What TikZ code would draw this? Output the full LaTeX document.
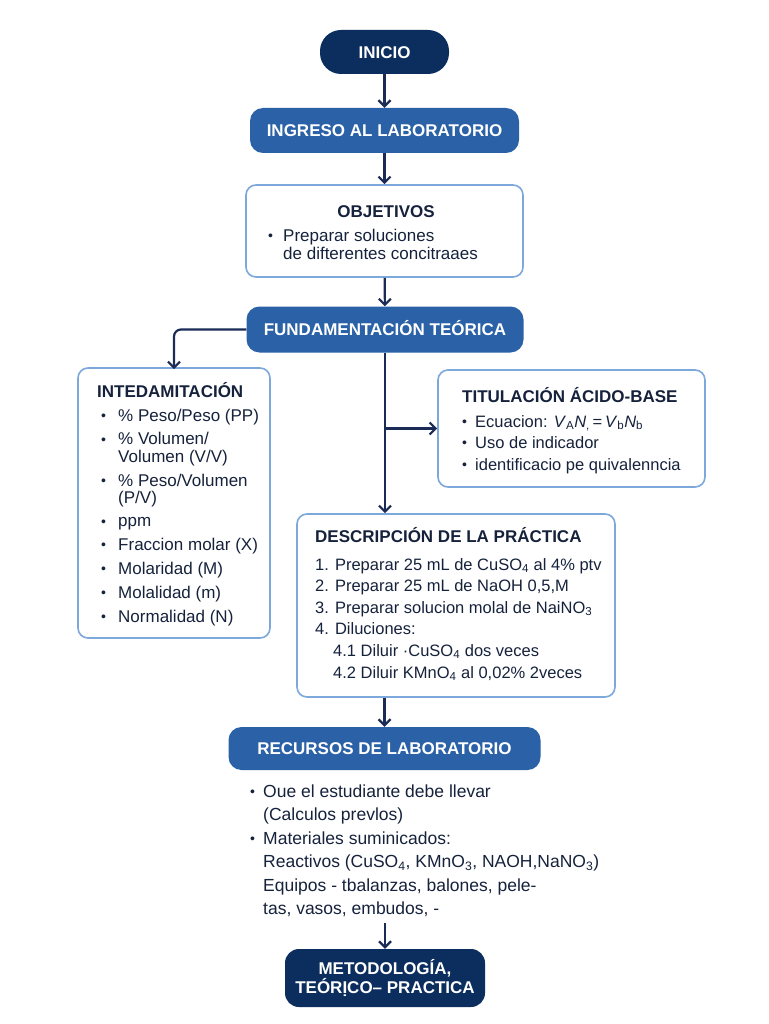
\documentclass[tikz,border=0pt]{standalone}
\usepackage{fontspec}
\setmainfont{Liberation Sans}
\usetikzlibrary{positioning, arrows.meta, calc}

\definecolor{navy}{HTML}{0C2E5E}
\definecolor{midblue}{HTML}{2A61A7}
\definecolor{edgeblue}{HTML}{7DA8DB}
\definecolor{inkdark}{HTML}{16223C}
\definecolor{arrowblue}{HTML}{1A2B55}

% bullets and hanging indents for the lists
\newcommand{\bul}[1][15pt]{\makebox[#1][l]{\fontsize{14}{14}\selectfont\raisebox{0.6pt}{•}}}
\newcommand{\indt}[1][15pt]{\hspace*{#1}}

\tikzset{
  pill/.style={rounded corners=13pt, text=white, inner sep=0pt, align=center,
    font=\fontsize{17}{17}\selectfont\bfseries},
  navypill/.style={pill, fill=navy},
  bluepill/.style={pill, fill=midblue, text height=12.3pt, text depth=0pt},
  infobox/.style={draw=edgeblue, line width=1.6pt, rounded corners=10pt, fill=white, inner sep=0pt},
  boxtitle/.style={font=\fontsize{17}{17}\selectfont\bfseries, text=inkdark, inner sep=0pt},
  boxtext/.style={text=inkdark, inner sep=0pt, anchor=base west},
  arr/.style={draw=arrowblue, line width=2.2pt, -{Straight Barb[length=6pt, width=12pt]}},
}

\begin{document}
\begin{tikzpicture}[x=1pt, y=-1pt]
  \useasboundingbox[fill=white] (0,0) rectangle (768,1024);

  % 1. Main column
  \node[navypill, minimum width=129, minimum height=44, rounded corners=21pt,
        text height=12.3pt, text depth=0pt] (inicio) at (384.5,52) {INICIO};
  \node[bluepill, minimum width=269, minimum height=45] (ingreso) at (384.5,130.5) {INGRESO AL LABORATORIO};
  \node[infobox, minimum width=277, minimum height=92] (objetivos) at (384.5,231) {};
  \node[bluepill, minimum width=277, minimum height=46] (fund) at (385,329.5) {FUNDAMENTACIÓN TEÓRICA};

  % 2. Side boxes
  \node[infobox, minimum width=192, minimum height=270] (intedam) at (174,503) {};
  \node[infobox, minimum width=267, minimum height=117] (titulacion) at (571.5,428.5) {};
  \node[infobox, minimum width=318, minimum height=183] (descripcion) at (456,605.5) {};

  \node[bluepill, minimum width=312, minimum height=43] (recursos) at (384.5,748.5) {RECURSOS DE LABORATORIO};
  \node[navypill, minimum width=200, minimum height=58, rounded corners=14pt] (metodologia) at (385,978)
       {METODOLOGÍA,\\TEÓRỊCO– PRACTICA};

  % 3. Texts inside the boxes
  \node[boxtitle, anchor=base] (objtitle) at (386,218) {OBJETIVOS};
  \node[boxtext, font=\fontsize{17}{18}\selectfont] (objlist) at (268,241) {\begin{tabular}[t]{@{}l@{}}
    \bul Preparar soluciones\\
    \indt de difterentes concitraaes
  \end{tabular}};

  \node[boxtitle, anchor=base west] (intedamtitle) at (97,397) {INTEDAMITACIÓN};
  \node[boxtext, font=\fontsize{17}{17}\selectfont] (intedamlist) at (101,421) {\begin{tabular}[t]{@{}l@{}}
    \bul[17pt]\% Peso/Peso (PP)\\[6.5pt]
    \bul[17pt]\% Volumen/\\
    \indt[17pt]Volumen (V/V)\\[6.5pt]
    \bul[17pt]\% Peso/Volumen\\
    \indt[17pt](P/V)\\[6pt]
    \bul[17pt]ppm\\[6.5pt]
    \bul[17pt]Fraccion molar (X)\\[6.5pt]
    \bul[17pt]Molaridad (M)\\[6.5pt]
    \bul[17pt]Molalidad (m)\\[6.5pt]
    \bul[17pt]Normalidad (N)
  \end{tabular}};

  \node[boxtitle, anchor=base west] (titultitle) at (462,402) {TITULACIÓN ÁCIDO-BASE};
  \node[boxtext, font=\fontsize{16.5}{21.5}\selectfont] (titullist) at (462,427) {\begin{tabular}[t]{@{}l@{}}
    \bul[13pt]Ecuacion: \textit{V}\textsubscript{A}\textit{N}\textsubscript{,}\,=\,\textit{V}\textsubscript{b}\textit{N}\textsubscript{b}\\
    \bul[13pt]Uso de indicador\\
    \bul[13pt]identificacio pe quivalenncia
  \end{tabular}};

  \node[boxtitle, anchor=base west] (desctitle) at (315,542) {DESCRIPCIÓN DE LA PRÁCTICA};
  \node[boxtext, font=\fontsize{16.5}{21.6}\selectfont] (desclist) at (315,570) {\begin{tabular}[t]{@{}l@{}}
    1. Preparar 25 mL de CuSO\textsubscript{4} al 4\% ptv\\
    2. Preparar 25 mL de NaOH 0,5,M\\
    3. Preparar solucion molal de NaiNO\textsubscript{3}\\
    4. Diluciones:\\
    \indt[18pt]4.1 Diluir ·CuSO\textsubscript{4} dos veces\\
    \indt[18pt]4.2 Diluir KMnO\textsubscript{4} al 0,02\% 2veces
  \end{tabular}};

  % 4. Resources list (no frame)
  \node[boxtext, font=\fontsize{17.5}{23.5}\selectfont] (recursoslist) at (250,797) {\begin{tabular}[t]{@{}l@{}}
    \bul[13pt]Oue el estudiante debe llevar\\
    \indt[13pt](Calculos prevlos)\\
    \bul[13pt]Materiales suminicados:\\
    \indt[13pt]Reactivos (CuSO\textsubscript{4}, KMnO\textsubscript{3}, NAOH,NaNO\textsubscript{3})\\
    \indt[13pt]Equipos - tbalanzas, balones, pele-\\
    \indt[13pt]tas, vasos, embudos, -
  \end{tabular}};
  \coordinate (listend) at (385,923);

  % 5. Connectors
  \draw[arr] (inicio) -- (ingreso);
  \draw[arr] (ingreso) -- (objetivos);
  \draw[arr] (objetivos) -- (fund);
  \draw[arr, rounded corners=7pt] (fund.west) -| ([yshift=-2pt]intedam.north);
  \draw[arr] (fund.south) -- (fund.south |- descripcion.north);
  \draw[arr] (fund.south |- titulacion.west) -- (titulacion.west);
  \draw[arr] (descripcion.south -| recursos.north) -- (recursos.north);
  \draw[arr] (listend) -- (metodologia.north);
\end{tikzpicture}
\end{document}
